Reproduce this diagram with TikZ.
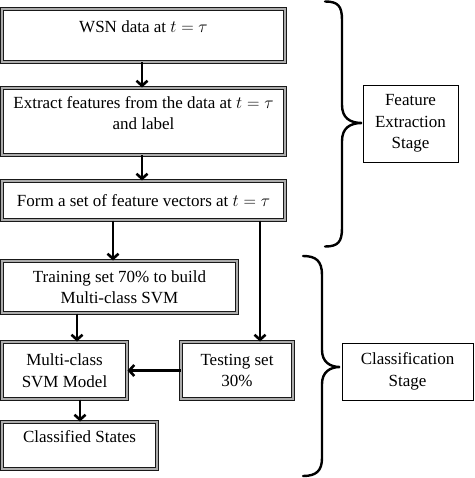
\documentclass[tikz,border=0pt]{standalone}
\usepackage{fontspec}
\setmainfont{Liberation Serif}
\usetikzlibrary{arrows.meta, positioning}

\tikzset{
  stepbox/.style={draw=black!90, double=gray!65, double distance=1.6pt, line width=1pt,
    fill=white, align=center, inner xsep=2pt, inner ysep=0pt},
  stagebox/.style={draw=black, line width=0.8pt, align=center, inner sep=0pt},
  arr/.style={line width=2.6pt, -{Straight Barb[length=5pt,width=11pt]}},
  bracepath/.style={line width=2.4pt, line cap=round}
}

\begin{document}
\begin{tikzpicture}[x=1pt, y=-1pt, font=\fontsize{17}{21.5}\selectfont]
        \useasboundingbox (0,0) rectangle (474,478);

        % Boxes
        \node[stepbox, minimum width=283pt, text height=24pt, text depth=29pt] (wsn) at (143.5,35.5) {WSN data at $t=\tau$};
        \node[stepbox, minimum width=283pt, text height=42pt, text depth=25pt] (extract) at (143.5,121.5) {Extract features from the data at $t=\tau$\\and label};
        \node[stepbox, minimum width=283pt, minimum height=39pt] (vectors) at (143.5,200.5) {Form a set of feature vectors at $t=\tau$};
        \node[stepbox, minimum width=235pt, minimum height=52pt] (training) at (119.5,287) {Training set 70\% to build\\Multi-class SVM};
        \node[stepbox, minimum width=125pt, minimum height=57pt] (model) at (64.5,370.5) {Multi-class\\SVM Model};
        \node[stepbox, minimum width=112pt, minimum height=57pt] (testing) at (237,370.5) {Testing set\\30\%};
        \node[stepbox, minimum width=155pt, text height=20pt, text depth=27pt] (states) at (79.5,445.5) {Classified States};

        % Stage labels
        \node[stagebox, minimum width=95pt, minimum height=77pt] (fstage) at (410.5,123.5) {Feature\\Extraction\\Stage};
        \node[stagebox, minimum width=131pt, minimum height=57pt] (cstage) at (407.5,371.5) {Classification\\Stage};

        % Arrows
        \draw[arr] (wsn.south -| 142,0) -- (extract.north -| 142,0);
        \draw[arr] (extract.south -| 142,0) -- (vectors.north -| 142,0);
        \draw[arr] (vectors.south -| 113,0) -- (training.north -| 113,0);
        \draw[arr] (vectors.south -| 260,0) -- (testing.north -| 260,0);
        \draw[arr] (training.south -| 77,0) -- (model.north -| 77,0);
        \draw[arr] (testing.west) -- (model.east);
        \draw[arr] (model.south -| 80,0) -- (states.north -| 80,0);

        % Braces
        \draw[bracepath] (325,1.5) .. controls (338,1.5) and (342,6) .. (342,20) -- (342,105)
              .. controls (342,118) and (350,123) .. (362,123)
              .. controls (350,123) and (342,128) .. (342,141) -- (342,228)
              .. controls (342,242) and (338,246.5) .. (325,246.5);
        \draw[bracepath] (303,256) .. controls (316,256) and (322,261) .. (322,275) -- (322,350)
              .. controls (322,362) and (330,367) .. (340,367)
              .. controls (330,367) and (322,372) .. (322,384) -- (322,458)
              .. controls (322,471) and (316,476) .. (303,476);
    \end{tikzpicture}
\end{document}
